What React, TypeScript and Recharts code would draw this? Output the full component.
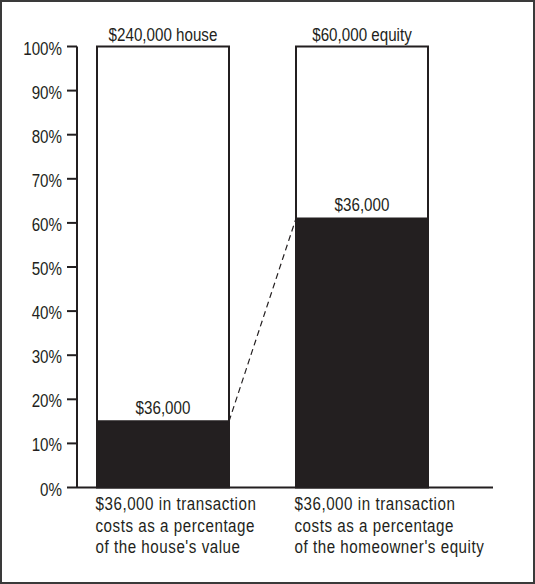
import { Bar, BarChart, LabelList, XAxis, YAxis } from "recharts";

const categories = ["house", "equity"];
const costShare = [15, 61];
const restShare = [85, 39];
const topLabels = ["$240,000 house", "$60,000 equity"];
const costLabels = ["$36,000", "$36,000"];
const captionLines = [
  ["$36,000 in transaction", "costs as a percentage", "of the house's value"],
  ["$36,000 in transaction", "costs as a percentage", "of the homeowner's equity"],
];
const yTicks = [0, 10, 20, 30, 40, 50, 60, 70, 80, 90, 100];

const data = categories.map((name, i) => ({
  name,
  cost: costShare[i],
  rest: restShare[i],
  top: topLabels[i],
  costLabel: costLabels[i],
}));

const INK = "#231f20";
const FONT = "'Liberation Sans', Arial, sans-serif";
const SIZE = 18.5;
const SQUEEZE = 0.82; // fake a condensed face
const BAR = 132;

// condensed text, anchored at (x, y) baseline
const Narrow = ({ x, y, anchor = "middle", spacing = 0, children }: any) => (
  <text
    transform={`translate(${x},${y}) scale(${SQUEEZE},1)`}
    textAnchor={anchor}
    fontFamily={FONT}
    fontSize={SIZE}
    letterSpacing={spacing}
    fill={INK}
  >
    {children}
  </text>
);

// remembers where the black blocks ended up so the second one can draw the connector
const blocks: { x: number; y: number; w: number }[] = [];

const CostBlock = (props: any) => {
  const { x, y, width, height, index } = props;
  blocks[index] = { x, y, w: width };
  const prev = index === 1 ? blocks[0] : null;
  return (
    <g>
      <rect x={x} y={y} width={width} height={height} fill={INK} stroke={INK} strokeWidth={2} />
      {prev && (
        <line
          x1={prev.x + prev.w}
          y1={prev.y}
          x2={x}
          y2={y}
          stroke={INK}
          strokeWidth={1.2}
          strokeDasharray="6 4"
        />
      )}
    </g>
  );
};

const BarLabel = (props: any) => {
  const { x, y, width, value, gap } = props;
  return <Narrow x={x + width / 2} y={y - gap}>{value}</Narrow>;
};

const YTick = (props: any) => {
  const { x, y, payload } = props;
  return <Narrow x={x} y={y + 8} anchor="end">{`${payload.value}%`}</Narrow>;
};

const Caption = (props: any) => {
  const { x, index } = props;
  const lines = captionLines[index] || [];
  const left = x - BAR / 2 - 1;
  return (
    <g>
      {lines.map((l, i) => (
        <Narrow key={i} x={left} y={510 + i * 21.6} anchor="start" spacing={0.65}>
          {l}
        </Narrow>
      ))}
    </g>
  );
};

export default function App() {
  return (
    <div style={{ position: "absolute", left: 0, top: 0, width: 535, height: 584, background: "#fff" }}>
      <BarChart
        width={535}
        height={584}
        data={data}
        margin={{ top: 46.5, right: 42, left: 17, bottom: 0 }}
        barSize={BAR}
      >
        <XAxis
          dataKey="name"
          height={96.5}
          padding={{ left: -14, right: 32 }}
          axisLine={{ stroke: INK, strokeWidth: 2 }}
          tickLine={false}
          tick={<Caption />}
          interval={0}
        />
        <YAxis
          width={60}
          domain={[0, 100]}
          ticks={yTicks}
          axisLine={{ stroke: INK, strokeWidth: 2 }}
          tickLine={{ stroke: INK, strokeWidth: 2 }}
          tickSize={10}
          tickMargin={5}
          tick={<YTick />}
        />
        <Bar dataKey="cost" stackId="a" isAnimationActive={false} shape={<CostBlock />}>
          <LabelList dataKey="costLabel" content={<BarLabel gap={7} />} />
        </Bar>
        <Bar dataKey="rest" stackId="a" fill="#fff" stroke={INK} strokeWidth={2} isAnimationActive={false}>
          <LabelList dataKey="top" content={<BarLabel gap={6} />} />
        </Bar>
      </BarChart>
      <div
        style={{
          position: "absolute",
          inset: 0,
          border: "2px solid #3a3a3a",
          pointerEvents: "none",
        }}
      />
    </div>
  );
}
